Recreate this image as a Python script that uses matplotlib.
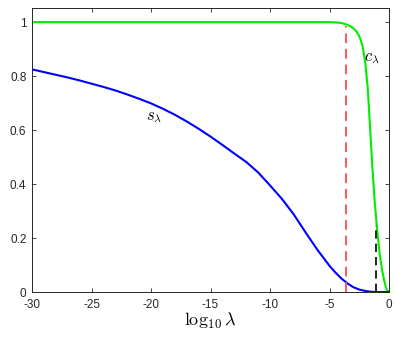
import numpy as np
import matplotlib
matplotlib.use("Agg")
import matplotlib.pyplot as plt

# values
x_s = [-30, -29, -28, -27, -26, -25, -24, -23, -22, -21, -20, -19, -18, -17,
       -16, -15, -14, -13, -12, -11, -10, -9, -8, -7, -6, -5, -4.5, -4, -3.5,
       -3, -2.5, -2, -1.5, -1, 0]
s_lam = [0.825, 0.815, 0.805, 0.795, 0.784, 0.772, 0.760, 0.747, 0.732, 0.716,
         0.699, 0.679, 0.657, 0.632, 0.605, 0.576, 0.545, 0.513, 0.482, 0.443,
         0.395, 0.345, 0.287, 0.220, 0.155, 0.097, 0.072, 0.050, 0.032, 0.018,
         0.009, 0.004, 0.001, 0.0, 0.0]

x_c = [-30, -10, -5, -4.5, -4, -3.5, -3.25, -3, -2.75, -2.5, -2.35, -2.2, -2.0,
       -1.8, -1.6, -1.4, -1.2, -1.0, -0.8, -0.6, -0.4, -0.2, 0]
c_lam = [1.0, 1.0, 1.0, 0.999, 0.997, 0.99, 0.985, 0.977, 0.966, 0.948, 0.93,
         0.905, 0.85, 0.76, 0.612, 0.46, 0.33, 0.23, 0.145, 0.085, 0.04, 0.008, 0.0]

red_x, red_top = -3.6, 0.985
black_x, black_top = -1.08, 0.25

xticks = [-30, -25, -20, -15, -10, -5, 0]
yticks = [0, 0.2, 0.4, 0.6, 0.8, 1]

plt.rcParams['mathtext.fontset'] = 'cm'
plt.rcParams['font.family'] = 'Liberation Sans'

fig = plt.figure(figsize=(3.95, 3.38), dpi=100)
ax = fig.add_axes([0.081, 0.136, 0.904, 0.840])

ax.plot(x_c, c_lam, color=(0, 0.93, 0), lw=1.5)
ax.plot(x_s, s_lam, color=(0, 0, 1), lw=1.5)
ax.plot([red_x, red_x], [0, red_top], color=(1, 0.35, 0.35), lw=1.4, dashes=(5, 3))
ax.plot([black_x, black_x], [0, black_top], color='k', lw=1.2, dashes=(5, 3))

ax.text(-19.75, 0.648, r'$s_\lambda$', fontsize=12, ha='center', va='center')
ax.text(-1.45, 0.867, r'$c_\lambda$', fontsize=12, ha='center', va='center')

ax.set_xlim(-30, 0)
ax.set_ylim(0, 1.052)
ax.set_xticks(xticks)
ax.set_xticklabels([str(t) for t in xticks])
ax.set_yticks(yticks)
ax.set_yticklabels(['0', '0.2', '0.4', '0.6', '0.8', '1'])
ax.tick_params(direction='in', top=True, right=True, length=3, width=0.6,
               labelsize=8.5, colors='#262626')
ax.tick_params(axis='x', pad=5)
ax.tick_params(axis='y', pad=4)
for sp in ax.spines.values():
    sp.set_linewidth(0.7)
    sp.set_color('#262626')
ax.set_xlabel(r'$\log_{10}\lambda$', fontsize=13, labelpad=0)

fig.savefig('out.png', dpi=100)
